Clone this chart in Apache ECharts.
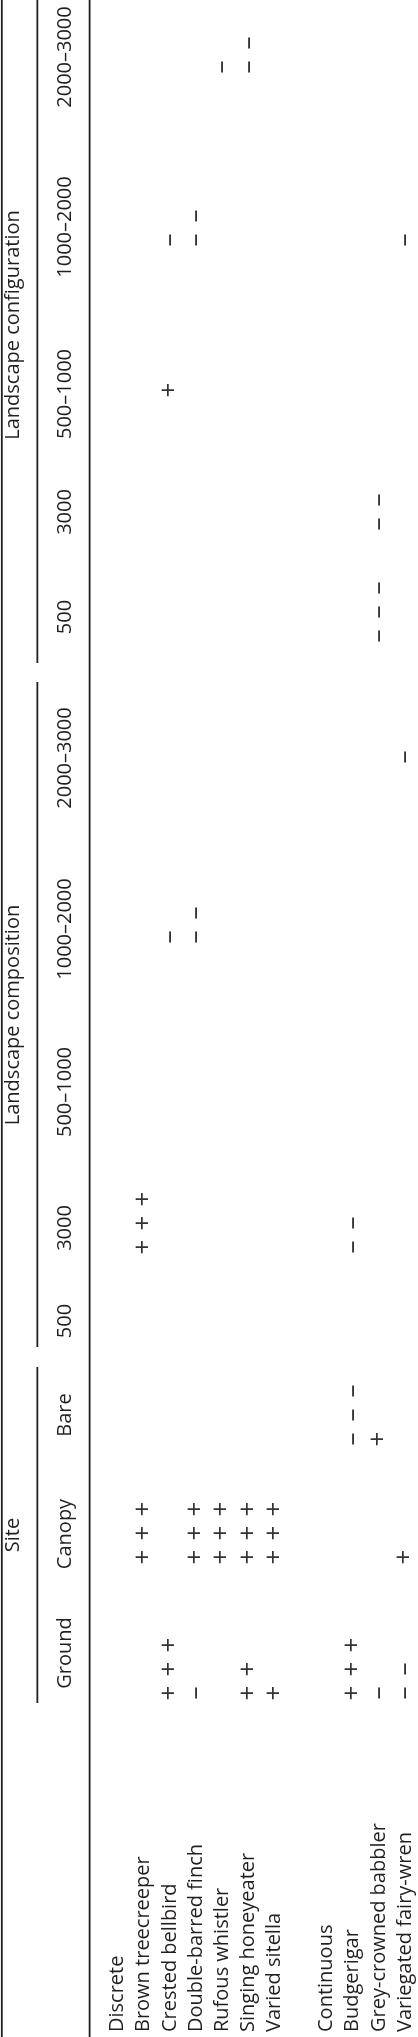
<!DOCTYPE html>
<html><head><meta charset="utf-8">
<script src="https://cdn.jsdelivr.net/npm/echarts@6/dist/echarts.min.js"></script>
<style>html,body{margin:0;padding:0;background:#fff}#c{width:418px;height:2037px}</style>
</head><body><div id="c"></div>
<script>
// ---- data ----
const groups = ['Site', 'Landscape composition', 'Landscape configuration'];
const columns = ['Ground','Canopy','Bare','500','3000','500–1000','1000–2000','2000–3000','500','3000','500–1000','1000–2000','2000–3000'];
const rows = ['Discrete','Brown treecreeper','Crested bellbird','Double-barred finch','Rufous whistler','Singing honeyeater','Varied sitella','','Continuous','Budgerigar','Grey-crowned babbler','Variegated fairy-wren'];
const cells = [
  ['','','','','','','','','','','','',''],
  ['','+++','','','+++','','','','','','','',''],
  ['+++','','','','','','–','','','','+','–',''],
  ['–','+++','','','','','––','','','','','––',''],
  ['','+++','','','','','','','','','','','–'],
  ['++','+++','','','','','','','','','','','––'],
  ['+','+++','','','','','','','','','','',''],
  ['','','','','','','','','','','','',''],
  ['','','','','','','','','','','','',''],
  ['+++','','–––','','––','','','','','','','',''],
  ['–','','+','','','','','','–––','––','','',''],
  ['––','+','','','','','','–','','','','–','']
];
// ---- layout (not data) ----
const colCenter = [1653,1534,1415,1321,1228,1092,929,758,617,512,394,227,57];
const markStart = [1693,1557,1439,1340,1247,1130,937,757,636,524,390,240,67];
const glyphStep = 24;
const groupCenter = [1535,1015,325];
const groupSpan = [[1367,1703],[682,1347],[0,663]];
const ROW_GROUP = -4, ROW_HEAD = -2;

const texts = [];
groups.forEach((g,i)=>texts.push({x:ROW_GROUP,y:groupCenter[i],t:g,a:'center',fs:20}));
columns.forEach((c,i)=>texts.push({x:ROW_HEAD,y:colCenter[i],t:c,a:'center',fs:20}));
rows.forEach((r,i)=>{ if(r) texts.push({x:i,y:2032,t:r,a:'left',fs:20}); });
cells.forEach((row,ri)=>row.forEach((s,ci)=>{
  [...s].forEach((ch,k)=>texts.push({x:ri,y:markStart[ci]-k*glyphStep,t:ch,a:'center',fs:26,mark:true}));
}));
const lines = [
  [-4.43,0,-4.43,2037],
  [-1.07,0,-1.07,2037]
];
groupSpan.forEach(s=>lines.push([-3.07,s[0],-3.07,s[1]]));

const chart = echarts.init(document.getElementById('c'));
chart.setOption({
  animation:false,
  grid:{left:0,right:0,top:0,bottom:0},
  xAxis:{type:'value',min:-4.5,max:11.5,show:false},
  yAxis:{type:'value',min:0,max:2037,inverse:true,show:false},
  series:[
    {type:'custom',data:lines.map(l=>l),
     renderItem:(p,api)=>{
       const a=api.coord([api.value(0),api.value(1)]), b=api.coord([api.value(2),api.value(3)]);
       return {type:'line',shape:{x1:a[0],y1:a[1],x2:b[0],y2:b[1]},style:{stroke:'#231f20',lineWidth:1.8}};
     }},
    {type:'custom',data:texts.map(t=>[t.x,t.y]),
     renderItem:(p,api)=>{
       const t=texts[p.dataIndex]; const c=api.coord([t.x,t.y]);
       return {type:'text',x:c[0],y:c[1],rotation:Math.PI/2,
         style:{text:t.t,align:t.a,verticalAlign:'middle',fontFamily:'Open Sans',fontSize:t.fs,
           fill:t.mark?'#333':'#231f20'}};
     }}
  ]
});
</script></body></html>
